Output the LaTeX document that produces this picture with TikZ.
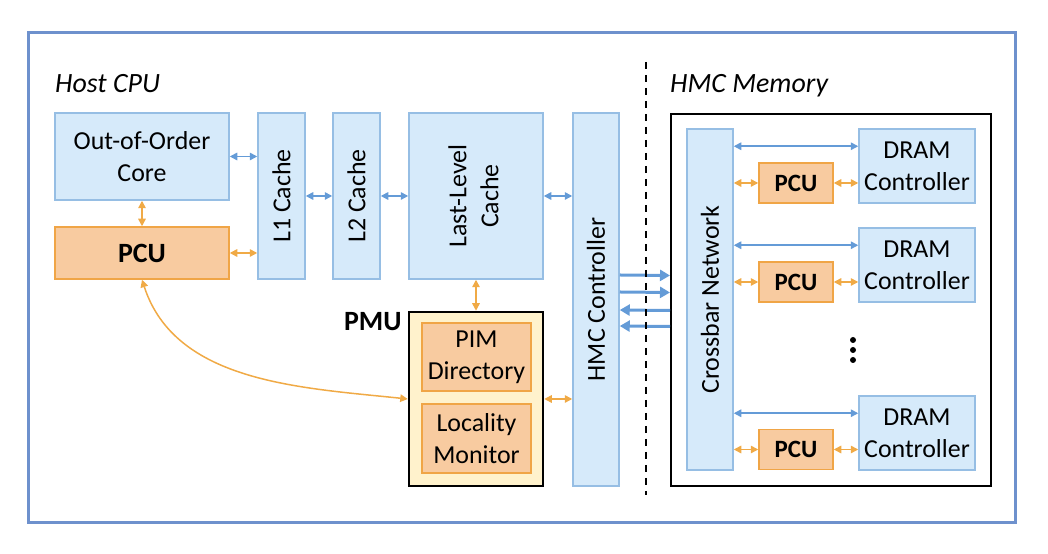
\documentclass[tikz,border=0pt]{standalone}
\usepackage{fontspec}
\setmainfont{Carlito}
\usetikzlibrary{arrows.meta}
\definecolor{boxblue}{RGB}{214,234,250}
\definecolor{edgeblue}{RGB}{150,190,228}
\definecolor{arrblue}{RGB}{100,155,215}
\definecolor{boxorange}{RGB}{248,203,160}
\definecolor{edgeorange}{RGB}{240,165,70}
\definecolor{arrorange}{RGB}{240,170,70}
\definecolor{pmuyellow}{RGB}{255,242,204}
\definecolor{frameblue}{RGB}{110,145,205}

\begin{document}
\begin{tikzpicture}[x=1bp, y=1bp,
  sz/.style 2 args={minimum width=#1bp, minimum height=#2bp},
  blk/.style={draw=edgeblue, fill=boxblue, line width=1.5bp, inner sep=2bp,
              align=center, font=\fontsize{26}{32}\selectfont},
  unit/.style={draw=edgeorange, fill=boxorange, line width=1.5bp, inner sep=2bp,
               align=center, font=\fontsize{26}{32}\selectfont},
  pcu/.style={unit, font=\bfseries\fontsize{25}{30}\selectfont},
  hdr/.style={font=\itshape\fontsize{28}{34}\selectfont, anchor=base west, inner sep=0pt},
  barr/.style={{Triangle[length=7.5bp,width=7.5bp]}-{Triangle[length=7.5bp,width=7.5bp]},
               line width=1.5bp, arrblue},
  oarr/.style={{Triangle[length=7.5bp,width=7.5bp]}-{Triangle[length=7.5bp,width=7.5bp]},
               line width=1.5bp, arrorange},
  bigarr/.style={-{Triangle[length=10bp,width=11bp]}, line width=3bp, arrblue}
]
\useasboundingbox (0,0) rectangle (1048,554);
\draw[frameblue, line width=3bp] (28,31) rectangle (1015,521);

% host side
\node[hdr] (hosthdr) at (55,461) {Host CPU};
\node[blk, sz={174}{87}] (core) at (142,397.5) {Out-of-Order\\Core};
\node[pcu, sz={174}{52}, font=\bfseries\fontsize{28}{32}\selectfont] (pcuh) at (142,301) {PCU};
\node[blk, sz={47}{166}] (lone) at (281.5,358) {\rotatebox{90}{L1 Cache}};
\node[blk, sz={47}{166}] (ltwo) at (356.5,358) {\rotatebox{90}{L2 Cache}};
\node[blk, sz={134}{166}] (llc) at (476,358)
  {\rotatebox{90}{\begin{tabular}{@{}c@{}}Last-Level\\Cache\end{tabular}}};
\node[blk, sz={46}{373}] (hmcc) at (596,254.5) {\rotatebox{90}{HMC Controller}};

% PMU
\node[draw=black, fill=pmuyellow, line width=2.5bp, sz={134}{174}] (pmu) at (476,155) {};
\node[unit, sz={109}{68}] (pimdir) at (476.5,197) {PIM\\Directory};
\node[unit, sz={109}{69}] (locmon) at (476.5,115.5) {Locality\\Monitor};
\node[anchor=east, inner sep=0pt, font=\bfseries\fontsize{28}{32}\selectfont]
  (pmulbl) at ([xshift=-6bp, yshift=-11bp]pmu.north west) {PMU};

% memory side
\node[hdr] (memhdr) at (670,461) {HMC Memory};
\node[draw=black, fill=white, line width=2bp, sz={320}{372}] (hmcmem) at (831,254) {};
\node[blk, sz={46}{341}] (xbar) at (710,254.5) {\rotatebox{90}{Crossbar Network}};
\foreach \i/\yd/\yp in {1/388/371, 2/289/272, 3/121/104.5} {
  \node[blk, sz={116}{74}] (dram\i) at (917,\yd) {DRAM\\Controller};
  \node[pcu, sz={74}{40}] (pcu\i) at (796,\yp) {PCU};
  \coordinate (da\i) at ([yshift=-18bp]dram\i.north west);
  \draw[barr] (xbar.east |- da\i) -- (da\i);
  \draw[oarr] (xbar.east |- pcu\i.west) -- (pcu\i.west);
  \draw[oarr] (pcu\i.east) -- (pcu\i.east -| dram\i.west);
}
\foreach \y in {214,204,194}
  \fill (853,\y) circle (3bp);

% host connectors
\draw[barr] (core.east) -- (core.east -| lone.west);
\draw[oarr] (core.south) -- (pcuh.north);
\draw[oarr] (pcuh.east) -- (pcuh.east -| lone.west);
\draw[barr] (lone.east) -- (ltwo.west);
\draw[barr] (ltwo.east) -- (llc.west);
\draw[barr] (llc.east) -- (llc.east -| hmcc.west);
\draw[oarr] (llc.south) -- (pmu.north);
\draw[oarr] (pmu.east) -- (pmu.east -| hmcc.west);
\draw[oarr] (pcuh.south) to[out=-72, in=174, looseness=0.95] (pmu.west);

% links to memory
\foreach \y in {24.5,7.5}
  \draw[bigarr] ([yshift=\y bp]hmcc.east) -- ([yshift=\y bp]hmcmem.west);
\foreach \y in {-10.5,-26.5}
  \draw[bigarr] ([yshift=\y bp]hmcmem.west) -- ([yshift=\y bp]hmcc.east);

\coordinate (dtop) at (646,492);
\coordinate (dbot) at (646,59);
\draw[black, line width=2bp, dash pattern=on 7bp off 6bp] (dtop) -- (dbot);
\end{tikzpicture}
\end{document}
